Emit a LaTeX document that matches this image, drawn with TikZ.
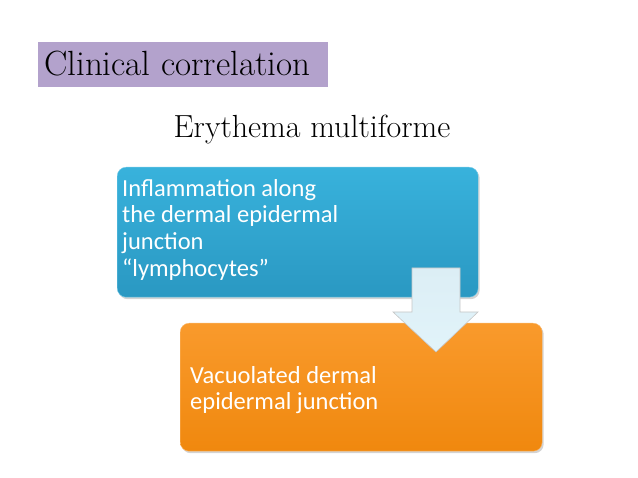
\documentclass[tikz,border=0pt]{standalone}
\usepackage{fontspec}
\newfontfamily\bodyfont{Carlito}
\usetikzlibrary{positioning, shadows}

\definecolor{tagpurple}{HTML}{B3A2CC}
\definecolor{stepblue}{HTML}{38B2DC}
\definecolor{stepbluedark}{HTML}{2A98C2}
\definecolor{steporange}{HTML}{F99A2C}
\definecolor{steporangedark}{HTML}{F0880E}
\definecolor{arrowpale}{HTML}{DCEEF5}

\tikzset{
  x=1pt, y=1pt,
  stepbox/.style={rounded corners=9pt, anchor=north west, inner sep=0pt,
                  drop shadow={shadow xshift=1.5pt, shadow yshift=-2pt, opacity=0.35}},
  steptext/.style={anchor=north west, align=left, text=white, inner sep=0pt,
                   font=\bodyfont\fontsize{24.5}{26.7}\selectfont},
  flowarrow/.style={draw=gray!45, line width=0.6pt, top color=arrowpale, bottom color=white!85!stepblue}
}

\begin{document}
\begin{tikzpicture}
  \useasboundingbox (0,0) rectangle (638,-478);

  % heading tag
  \node[fill=tagpurple, anchor=north west, minimum width=290pt, minimum height=45pt,
        inner sep=0pt] (tag) at (38,-42) {};
  \node[anchor=west, inner sep=0pt, font=\fontsize{35}{40}\selectfont] (tagtext) at ([xshift=6pt,yshift=1pt]tag.west) {Clinical correlation};

  % title
  \node[font=\fontsize{32}{38}\selectfont] (title) at (312,-130) {Erythema multiforme};

  % the two steps
  \node[stepbox, top color=stepblue, bottom color=stepbluedark, draw=stepblue!70!white,
        minimum width=361pt, minimum height=130pt] (inflam) at (117,-167) {};
  \node[steptext] (inflamtext) at ([xshift=5pt,yshift=-12pt]inflam.north west)
        {Inflammation along\\the dermal epidermal\\junction\\“lymphocytes”};
  \node[stepbox, top color=steporange, bottom color=steporangedark, draw=steporange!70!white,
        minimum width=362pt, minimum height=128pt] (vacuol) at (180,-323) {};
  \node[steptext] (vacuoltext) at ([xshift=10pt,yshift=-43pt]vacuol.north west)
        {Vacuolated dermal\\epidermal junction};

  % block arrow between the steps
  \coordinate (arrowtop) at (436,-268);
  \draw[flowarrow] (arrowtop) ++(-24,0) -- ++(48,0) -- ++(0,-44) -- ++(18,0)
        -- ++(-42,-40) -- ++(-43,40) -- ++(19,0) -- cycle;
\end{tikzpicture}
\end{document}
